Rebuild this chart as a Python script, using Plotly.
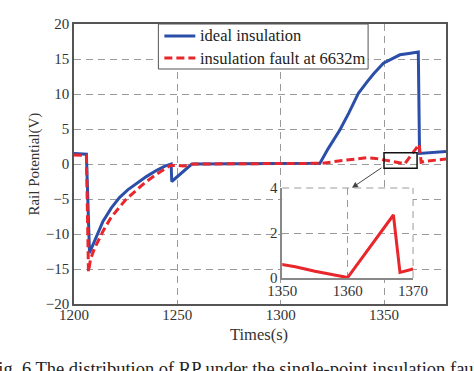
import plotly.graph_objects as go

# ---- data ----
blue_x = [1200, 1206, 1207.5, 1210, 1214, 1218, 1222, 1226, 1230, 1235, 1240, 1244, 1247,
          1247.3, 1257, 1300, 1319, 1323, 1328.7, 1333, 1337.6, 1342, 1345, 1349.7, 1354,
          1357.7, 1362, 1366.6, 1367.2, 1372, 1380]
blue_y = [1.5, 1.4, -12.7, -11.0, -8.2, -6.3, -4.8, -3.7, -2.8, -1.8, -0.9, -0.3, 0.0,
          -2.5, 0.0, 0.0, 0.1, 2.2, 4.9, 7.3, 10.1, 11.8, 12.9, 14.4, 15.1,
          15.6, 15.8, 16.0, 1.5, 1.6, 1.8]

red_x = [1200, 1206, 1207, 1208, 1210, 1214.4, 1218, 1220.9, 1225, 1230, 1235, 1241.8,
         1246.6, 1250, 1253, 1258, 1320, 1330, 1341.6, 1346, 1350, 1352, 1355, 1360,
         1367, 1368, 1370, 1375, 1380]
red_y = [1.3, 1.2, -15.4, -13.6, -12.0, -9.4, -7.6, -6.6, -5.1, -3.8, -2.5, -1.1,
         -0.2, -0.2, -0.3, 0.0, 0.1, 0.5, 0.9, 0.8, 0.6, 0.5, 0.3, 0.02,
         2.8, 0.25, 0.4, 0.6, 0.7]

series_names = ["ideal insulation", "insulation fault at 6632m"]

x_ticks = [1200, 1250, 1300, 1350]
y_ticks = [-20, -15, -10, -5, 0, 5, 10, 15, 20]
inset_x_ticks = [1350, 1360, 1370]
inset_y_ticks = [0, 2, 4]

zoom_box_x = [1350, 1366]
zoom_box_y = [-0.6, 1.6]

BLUE = "#2b4fa8"
RED = "#e8262c"
FONT = "Liberation Serif"
GRID = "#9a9a9a"
AXC = "#555555"
RED_DASH = "8px,4px"

fig = go.Figure()
fig.add_trace(go.Scatter(x=blue_x, y=blue_y, mode="lines", name=series_names[0],
                         line=dict(color=BLUE, width=3), xaxis="x", yaxis="y"))
fig.add_trace(go.Scatter(x=red_x, y=red_y, mode="lines", name=series_names[1],
                         line=dict(color=RED, width=3, dash=RED_DASH), xaxis="x", yaxis="y"))
fig.add_trace(go.Scatter(x=red_x, y=red_y, mode="lines", name=series_names[1] + " (zoom)",
                         line=dict(color=RED, width=3), xaxis="x2", yaxis="y2"))

W, H = 474, 371
L, R, T, B = 73.5, 446, 24, 304
pw, ph = R - L, B - T

def px(xp):
    return (xp - L) / pw

def py(yp):
    return (B - yp) / ph

axis_common = dict(showline=True, linecolor=AXC, linewidth=1.5, mirror=True,
                   showgrid=True, gridcolor=GRID, gridwidth=1, griddash="7px,5px",
                   zeroline=False, ticks="",
                   tickfont=dict(family=FONT, size=15, color="#333333"))

inset_common = dict(showline=True, linecolor="#888888", linewidth=1.5, mirror=False,
                    showgrid=True, gridcolor=GRID, gridwidth=1, griddash="7px,5px",
                    zeroline=False, ticks="",
                    tickfont=dict(family=FONT, size=15, color="#333333"))

fig.update_layout(
    width=W, height=H,
    margin=dict(l=L, r=W - R, t=T, b=H - B),
    paper_bgcolor="white", plot_bgcolor="white",
    xaxis=dict(range=[1200, 1380], tickvals=x_ticks, domain=[0, 1],
               ticklabelstandoff=-4, **axis_common),
    yaxis=dict(range=[-20, 20], tickvals=y_ticks, domain=[0, 1], **axis_common),
    xaxis2=dict(range=[1350, 1370], tickvals=inset_x_ticks, anchor="y2",
                domain=[px(282), px(413)], ticklabelstandoff=-2, **inset_common),
    yaxis2=dict(range=[0, 4], tickvals=inset_y_ticks, anchor="x2",
                domain=[py(278), py(188)], **inset_common),
    showlegend=False,
)

# zoom box on the main axes
fig.add_shape(type="rect", xref="x", yref="y",
              x0=zoom_box_x[0], x1=zoom_box_x[1], y0=zoom_box_y[0], y1=zoom_box_y[1],
              line=dict(color="#111111", width=1.5))
# dashed top / right edges of the inset (grid at the range ends)
fig.add_shape(type="line", xref="x2 domain", yref="y2 domain", x0=0, x1=1, y0=1, y1=1,
              line=dict(color=GRID, width=1, dash="7px,5px"))
fig.add_shape(type="line", xref="x2 domain", yref="y2 domain", x0=1, x1=1, y0=0, y1=1,
              line=dict(color=GRID, width=1, dash="7px,5px"))

fig.add_annotation(xref="x", yref="y", axref="x", ayref="y",
                   x=1334.5, y=-3.4, ax=zoom_box_x[0] - 0.5, ay=zoom_box_y[0] + 0.2,
                   text="", showarrow=True, arrowhead=2, arrowsize=1.2,
                   arrowwidth=1, arrowcolor="#444444")

# legend box (drawn to match the reference's compact MATLAB legend)
fig.add_shape(type="rect", xref="paper", yref="paper",
              x0=px(158), x1=px(368), y0=py(69), y1=py(24),
              fillcolor="white", line=dict(color=AXC, width=1), layer="above")
leg_rows = [(36, BLUE, "solid"), (58, RED, RED_DASH)]
for (yy, col, dsh), name in zip(leg_rows, series_names):
    fig.add_shape(type="line", xref="paper", yref="paper",
                  x0=px(164), x1=px(195), y0=py(yy), y1=py(yy),
                  line=dict(color=col, width=3, dash=dsh), layer="above")
    fig.add_annotation(xref="paper", yref="paper", x=px(198), y=py(yy),
                       xanchor="left", yanchor="middle", text=name, showarrow=False,
                       font=dict(family=FONT, size=16.5, color="#222222"))

fig.add_annotation(xref="paper", yref="paper", x=px(33), y=0.5,
                   xanchor="center", yanchor="middle",
                   text="Rail Potential(V)", textangle=-90, showarrow=False,
                   font=dict(family=FONT, size=15, color="#333333"))
fig.add_annotation(xref="paper", yref="paper", x=px(259), y=py(334),
                   xanchor="center", yanchor="middle",
                   text="Times(s)", showarrow=False,
                   font=dict(family=FONT, size=16.5, color="#333333"))
fig.add_annotation(xref="paper", yref="paper", x=px(-15), y=py(369),
                   xanchor="left", yanchor="middle",
                   text="Fig. 6 The distribution of RP under the single-point insulation fault",
                   showarrow=False,
                   font=dict(family=FONT, size=18.5, color="#222222"))

fig.write_html("out.html", config={"displayModeBar": False},
               post_script="document.body.style.margin='0';document.body.style.overflow='hidden';")
